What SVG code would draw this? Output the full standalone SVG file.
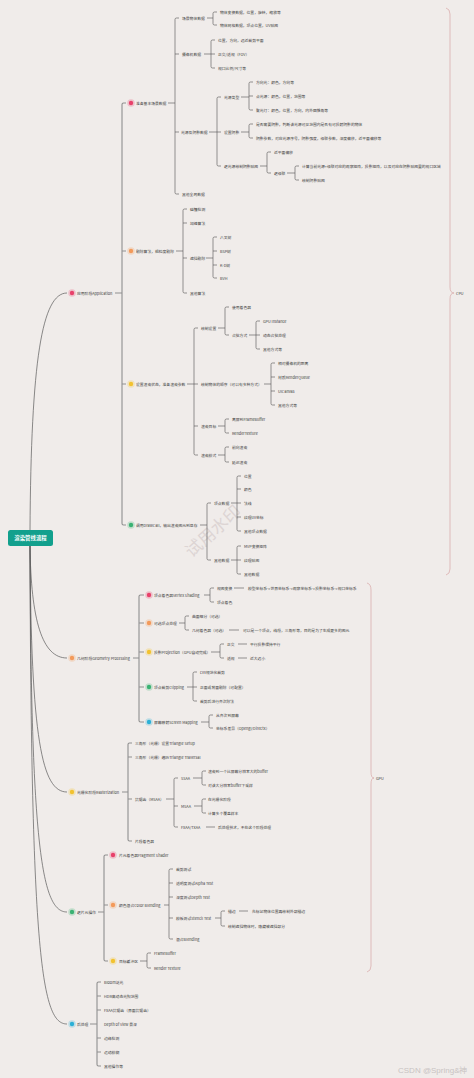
<svg xmlns="http://www.w3.org/2000/svg" width="474" height="1078" viewBox="0 0 474 1078">
<style>
.t{font-family:"Noto Sans CJK SC","Noto Sans","Liberation Sans",sans-serif;font-size:3.8px;fill:#3c3c3c;dominant-baseline:central}
.l1{stroke:#8f8f8f;stroke-width:1.1;fill:none}
.l{stroke:#505050;stroke-width:0.6;fill:none}
.c0{stroke:#5a5a5a;stroke-width:0.7;fill:none}
.br{stroke:#d49a9a;stroke-width:0.6;fill:none}
.red{fill:#e8416b}.ora{fill:#f39a5b}.yel{fill:#f2c230}.grn{fill:#3bb273}.blu{fill:#2cb0d6}
.h{opacity:0.25}
</style>
<rect width="474" height="1078" fill="#f0ecea"/>
<text x="212" y="530" transform="rotate(-42 212 530)" font-family="Noto Sans CJK SC,sans-serif" font-size="17" fill="#ddd5d4" text-anchor="middle" dominant-baseline="central">试用水印</text>

<g id="connectors">
  <!-- root curves -->
  <path class="c0" d="M30,531 C31,360 42,293 67,293"/>
  <path class="c0" d="M30,546 C31,620 42,658 67,658"/>
  <path class="c0" d="M30,546 C31,740 42,792 67,792"/>
  <path class="c0" d="M30,546 C31,850 42,912 67,912"/>
  <path class="c0" d="M30,546 C31,960 42,1024 67,1024"/>
  <!-- level 1 brackets -->
  <path class="l1" d="M115,293 H122 M126,103 H123.5 Q122,103 122,104.5 V523.5 Q122,525 123.5,525 H126 M122,251 H126 M122,384 H126"/>
  <path class="l1" d="M133,658 H139 M144,595 H140.5 Q139,595 139,596.5 V720.5 Q139,722 140.5,722 H144 M139,623 H144 M139,652 H144 M139,687 H144"/>
  <path class="l1" d="M122,792 H128 M132,743 H129.5 Q128,743 128,744.5 V839.5 Q128,841 129.5,841 H132 M128,757 H132 M128,799 H132"/>
  <path class="l1" d="M98,912 H104 M108,855 H105.5 Q104,855 104,856.5 V959.5 Q104,961 105.5,961 H108 M104,905 H108"/>
  <path class="l1" d="M90,1024 H97 M101,982 H98.5 Q97,982 97,983.5 V1064.5 Q97,1066 98.5,1066 H101 M97,996 H101 M97,1010 H101 M97,1038 H101 M97,1052 H101"/>
  <!-- application subtree -->
  <path class="l" d="M168,103 H175 M179,18 H176.5 Q175,18 175,19.5 V192.5 Q175,194 176.5,194 H179 M175,54 H179 M175,132 H179"/>
  <path class="l" d="M207,18 H213 M217,12 H214.5 Q213,12 213,13.5 V23.5 Q213,25 214.5,25 H217"/>
  <path class="l" d="M204,54 H211 M215,40 H212.5 Q211,40 211,41.5 V66.5 Q211,68 212.5,68 H215 M211,54 H215"/>
  <path class="l" d="M209,132 H217 M221,97 H218.5 Q217,97 217,98.5 V164.5 Q217,166 218.5,166 H221 M217,132 H221"/>
  <path class="l" d="M241,97 H249 M253,82 H250.5 Q249,82 249,83.5 V108.5 Q249,110 250.5,110 H253 M249,96 H253"/>
  <path class="l" d="M241,132 H249 M253,124 H250.5 Q249,124 249,125.5 V136.5 Q249,138 250.5,138 H253"/>
  <path class="l" d="M260,166 H267 M271,152 H268.5 Q267,152 267,153.5 V171.5 Q267,173 268.5,173 H271"/>
  <path class="l" d="M287,173 H295 M299,166 H296.5 Q295,166 295,167.5 V178.5 Q295,180 296.5,180 H299"/>
  <path class="l" d="M176,251 H183 M187,209 H184.5 Q183,209 183,210.5 V291.5 Q183,293 184.5,293 H187 M183,223 H187 M183,258 H187"/>
  <path class="l" d="M206,258 H213 M217,237 H214.5 Q213,237 213,238.5 V276.5 Q213,278 214.5,278 H217 M213,251 H217 M213,265 H217"/>
  <path class="l" d="M187,384 H194 M198,328 H195.5 Q194,328 194,329.5 V453.5 Q194,455 195.5,455 H198 M194,384 H198 M194,426 H198"/>
  <path class="l" d="M218,328 H225 M229,307 H226.5 Q225,307 225,308.5 V333.5 Q225,335 226.5,335 H229"/>
  <path class="l" d="M249,335 H256 M260,321 H257.5 Q256,321 256,322.5 V347.5 Q256,349 257.5,349 H260 M256,335 H260"/>
  <path class="l" d="M264,384 H271 M275,363 H272.5 Q271,363 271,364.5 V403.5 Q271,405 272.5,405 H275 M271,377 H275 M271,391 H275"/>
  <path class="l" d="M218,426 H225 M229,419 H226.5 Q225,419 225,420.5 V431.5 Q225,433 226.5,433 H229"/>
  <path class="l" d="M218,455 H225 M229,447 H226.5 Q225,447 225,448.5 V460.5 Q225,462 226.5,462 H229"/>
  <path class="l" d="M200,525 H207 M211,503 H208.5 Q207,503 207,504.5 V558.5 Q207,560 208.5,560 H211"/>
  <path class="l" d="M231,503 H237 M241,476 H238.5 Q237,476 237,477.5 V529.5 Q237,531 238.5,531 H241 M237,489 H241 M237,503 H241 M237,517 H241"/>
  <path class="l" d="M231,560 H237 M241,546 H238.5 Q237,546 237,547.5 V572.5 Q237,574 238.5,574 H241 M237,560 H241"/>
  <!-- geometry subtree -->
  <path class="l" d="M204,595 H210 M214,588 H211.5 Q210,588 210,589.5 V600.5 Q210,602 211.5,602 H214"/>
  <path class="l" d="M234,588 H244"/>
  <path class="l" d="M179,623 H185 M189,616 H186.5 Q185,616 185,617.5 V628.5 Q185,630 186.5,630 H189"/>
  <path class="l" d="M229,630 H239"/>
  <path class="l" d="M211,652 H220 M224,644 H221.5 Q220,644 220,645.5 V656.5 Q220,658 221.5,658 H224"/>
  <path class="l" d="M238,644 H247 M238,658 H247"/>
  <path class="l" d="M187,687 H193 M197,672 H194.5 Q193,672 193,673.5 V699.5 Q193,701 194.5,701 H197 M193,687 H197"/>
  <path class="l" d="M201,722 H209 M213,715 H210.5 Q209,715 209,716.5 V726.5 Q209,728 210.5,728 H213"/>
  <!-- raster subtree -->
  <path class="l" d="M166,799 H174 M178,778 H175.5 Q174,778 174,779.5 V825.5 Q174,827 175.5,827 H178 M174,806 H178"/>
  <path class="l" d="M193,778 H202 M206,771 H203.5 Q202,771 202,772.5 V783.5 Q202,785 203.5,785 H206"/>
  <path class="l" d="M194,806 H202 M206,799 H203.5 Q202,799 202,800.5 V811.5 Q202,813 203.5,813 H206"/>
  <path class="l" d="M206,827 H215"/>
  <!-- per-fragment subtree -->
  <path class="l" d="M164,905 H169 M173,869 H170.5 Q169,869 169,870.5 V937.5 Q169,939 170.5,939 H173 M169,883 H173 M169,897 H173 M169,918 H173"/>
  <path class="l" d="M215,918 H221 M225,911 H222.5 Q221,911 221,912.5 V924.5 Q221,926 222.5,926 H225"/>
  <path class="l" d="M239,911 H248"/>
  <path class="l" d="M140,961 H147 M151,953 H148.5 Q147,953 147,954.5 V966.5 Q147,968 148.5,968 H151"/>
  <!-- CPU / GPU braces -->
  <path class="br" d="M446,8 Q450,9 450,14 L450,287 Q450,293 454,293 Q450,293 450,299 L450,569 Q450,574 446,575"/>
  <path class="br" d="M367,583 Q371,584 371,590 L371,772 Q371,778 374,778 Q371,778 371,784 L371,966 Q371,971 367,972"/>
</g>

<g id="root">
  <rect x="8" y="530" width="45" height="16" rx="2.5" fill="#12a08d"/>
  <text x="30.5" y="538" font-family="Noto Sans CJK SC,sans-serif" font-size="5.4" font-weight="bold" fill="#ffffff" text-anchor="middle" dominant-baseline="central">渲染管线流程</text>
</g>

<g id="n-app"><circle cx="72" cy="293" r="3.8" class="red h"/><circle cx="72" cy="293" r="2.2" class="red"/><text class="t" x="77" y="293">应用阶段Application</text></g>
<g id="n-scene"><circle cx="131" cy="103" r="3.8" class="red h"/><circle cx="131" cy="103" r="2.2" class="red"/><text class="t" x="136" y="103">准备基本场景数据</text></g>
<g id="n-objdata"><text class="t" x="182" y="18">场景物体数据</text></g>
<g id="n-obj1"><text class="t" x="220" y="12">物体变换数据，位置，旋转，缩放等</text></g>
<g id="n-obj2"><text class="t" x="220" y="25">物体网格数据，顶点位置，UV贴图</text></g>
<g id="n-cam"><text class="t" x="182" y="54">摄像机数据</text></g>
<g id="n-cam1"><text class="t" x="218" y="40">位置，方向，远近裁剪平面</text></g>
<g id="n-cam2"><text class="t" x="218" y="54">正交/透视（FOV）</text></g>
<g id="n-cam3"><text class="t" x="218" y="68">视口比例/尺寸等</text></g>
<g id="n-light"><text class="t" x="181" y="132">光源及阴影数据</text></g>
<g id="n-ltype"><text class="t" x="224" y="97">光源类型</text></g>
<g id="n-lt1"><text class="t" x="256" y="82">方向光：颜色，方向等</text></g>
<g id="n-lt2"><text class="t" x="256" y="96">点光源：颜色，位置，范围等</text></g>
<g id="n-lt3"><text class="t" x="256" y="110">聚光灯：颜色，位置，方向，内外圆锥角等</text></g>
<g id="n-shadow"><text class="t" x="224" y="132">设置阴影</text></g>
<g id="n-sh1"><text class="t" x="256" y="124">是否需要阴影，判断该光源可见范围内是否有可投射阴影的物体</text></g>
<g id="n-sh2"><text class="t" x="256" y="138">阴影参数，对应光源序号，阴影强度，级联参数，深度偏移，近平面偏移等</text></g>
<g id="n-shmap"><text class="t" x="224" y="166">逐光源绘制阴影贴图</text></g>
<g id="n-shm1"><text class="t" x="274" y="152">近平面偏移</text></g>
<g id="n-casc"><text class="t" x="274" y="173">逐级联</text></g>
<g id="n-casc1"><text class="t" x="302" y="166">计算当前光源+级联对应的观察矩阵，投影矩阵，以及对应在阴影贴图里的视口区域</text></g>
<g id="n-casc2"><text class="t" x="302" y="180">绘制阴影贴图</text></g>
<g id="n-global"><text class="t" x="182" y="194">其他全局数据</text></g>

<g id="n-cull"><circle cx="131" cy="251" r="3.8" class="ora h"/><circle cx="131" cy="251" r="2.2" class="ora"/><text class="t" x="136" y="251">剔除算法，粗粒度剔除</text></g>
<g id="n-cull1"><text class="t" x="190" y="209">碰撞检测</text></g>
<g id="n-cull2"><text class="t" x="190" y="223">加速算法</text></g>
<g id="n-occl"><text class="t" x="190" y="258">遮挡剔除</text></g>
<g id="n-oc1"><text class="t" x="220" y="237">八叉树</text></g>
<g id="n-oc2"><text class="t" x="220" y="251">BSP树</text></g>
<g id="n-oc3"><text class="t" x="220" y="265">K-D树</text></g>
<g id="n-oc4"><text class="t" x="220" y="278">BVH</text></g>
<g id="n-cull3"><text class="t" x="190" y="293">其他算法</text></g>

<g id="n-state"><circle cx="131" cy="384" r="3.8" class="yel h"/><circle cx="131" cy="384" r="2.2" class="yel"/><text class="t" x="136" y="384">设置渲染状态，准备渲染参数</text></g>
<g id="n-draw"><text class="t" x="201" y="328">绘制设置</text></g>
<g id="n-draw1"><text class="t" x="232" y="307">使用着色器</text></g>
<g id="n-batch"><text class="t" x="232" y="335">合批方式</text></g>
<g id="n-b1"><text class="t" x="263" y="321">GPU Instance</text></g>
<g id="n-b2"><text class="t" x="263" y="335">动态合批处理</text></g>
<g id="n-b3"><text class="t" x="263" y="349">其他方式等</text></g>
<g id="n-order"><text class="t" x="201" y="384">绘制物体的顺序（可以有多种方式）</text></g>
<g id="n-o1"><text class="t" x="278" y="363">相对摄像机的距离</text></g>
<g id="n-o2"><text class="t" x="278" y="377">材质RenderQueue</text></g>
<g id="n-o3"><text class="t" x="278" y="391">UICanvas</text></g>
<g id="n-o4"><text class="t" x="278" y="405">其他方式等</text></g>
<g id="n-target"><text class="t" x="201" y="426">渲染目标</text></g>
<g id="n-tg1"><text class="t" x="232" y="419">离屏到FrameBuffer</text></g>
<g id="n-tg2"><text class="t" x="232" y="433">RenderTexture</text></g>
<g id="n-mode"><text class="t" x="201" y="455">渲染模式</text></g>
<g id="n-m1"><text class="t" x="232" y="447">前向渲染</text></g>
<g id="n-m2"><text class="t" x="232" y="462">延迟渲染</text></g>

<g id="n-dc"><circle cx="131" cy="525" r="3.8" class="grn h"/><circle cx="131" cy="525" r="2.2" class="grn"/><text class="t" x="136" y="525">调用DrawCall，输出渲染图元到显存</text></g>
<g id="n-vdata"><text class="t" x="214" y="503">顶点数据</text></g>
<g id="n-v1"><text class="t" x="244" y="476">位置</text></g>
<g id="n-v2"><text class="t" x="244" y="489">颜色</text></g>
<g id="n-v3"><text class="t" x="244" y="503">法线</text></g>
<g id="n-v4"><text class="t" x="244" y="517">纹理uv坐标</text></g>
<g id="n-v5"><text class="t" x="244" y="531">其他顶点数据</text></g>
<g id="n-odata"><text class="t" x="214" y="560">其他数据</text></g>
<g id="n-od1"><text class="t" x="244" y="546">MVP变换矩阵</text></g>
<g id="n-od2"><text class="t" x="244" y="560">纹理贴图</text></g>
<g id="n-od3"><text class="t" x="244" y="574">其他数据</text></g>

<g id="n-geo"><circle cx="72" cy="658" r="3.8" class="ora h"/><circle cx="72" cy="658" r="2.2" class="ora"/><text class="t" x="77" y="658">几何阶段Geometry Processing</text></g>
<g id="n-vs"><circle cx="149" cy="595" r="3.8" class="red h"/><circle cx="149" cy="595" r="2.2" class="red"/><text class="t" x="154" y="595">顶点着色器Vertex Shading</text></g>
<g id="n-vs1"><text class="t" x="217" y="588">视图变换</text><text class="t" x="248" y="588">模型坐标系-&gt;世界坐标系-&gt;观察坐标系-&gt;投影坐标系-&gt;视口坐标系</text></g>
<g id="n-vs2"><text class="t" x="217" y="602">顶点着色</text></g>
<g id="n-opt"><circle cx="149" cy="623" r="3.8" class="ora h"/><circle cx="149" cy="623" r="2.2" class="ora"/><text class="t" x="154" y="623">可选顶点处理</text></g>
<g id="n-opt1"><text class="t" x="192" y="616">曲面细分（可选）</text></g>
<g id="n-opt2"><text class="t" x="192" y="630">几何着色器（可选）</text><text class="t" x="243" y="630">可以是一个顶点，线段，三角形等，目的是为了生成更多的图元</text></g>
<g id="n-proj"><circle cx="149" cy="652" r="3.8" class="yel h"/><circle cx="149" cy="652" r="2.2" class="yel"/><text class="t" x="154" y="652">投影Projection（GPU自动完成）</text></g>
<g id="n-pj1"><text class="t" x="227" y="644">正交</text><text class="t" x="250" y="644">平行投影保持平行</text></g>
<g id="n-pj2"><text class="t" x="227" y="658">透视</text><text class="t" x="250" y="658">近大远小</text></g>
<g id="n-clip"><circle cx="149" cy="687" r="3.8" class="grn h"/><circle cx="149" cy="687" r="2.2" class="grn"/><text class="t" x="154" y="687">顶点裁剪Clipping</text></g>
<g id="n-cl1"><text class="t" x="200" y="672">cvv规范化裁剪</text></g>
<g id="n-cl2"><text class="t" x="200" y="687">正面或背面剔除（可配置）</text></g>
<g id="n-cl3"><text class="t" x="200" y="701">裁剪后进行齐次除法</text></g>
<g id="n-sm"><circle cx="149" cy="722" r="3.8" class="blu h"/><circle cx="149" cy="722" r="2.2" class="blu"/><text class="t" x="154" y="722">屏幕映射Screen Mapping</text></g>
<g id="n-sm1"><text class="t" x="216" y="715">从齐次到屏幕</text></g>
<g id="n-sm2"><text class="t" x="216" y="728">坐标系差异（Opengl/DirectX）</text></g>

<g id="n-ras"><circle cx="72" cy="792" r="3.8" class="yel h"/><circle cx="72" cy="792" r="2.2" class="yel"/><text class="t" x="77" y="792">光栅化阶段Rasterization</text></g>
<g id="n-r1"><text class="t" x="135" y="743">三角形（光栅）设置Triangle Setup</text></g>
<g id="n-r2"><text class="t" x="135" y="757">三角形（光栅）遍历Triangle Traversal</text></g>
<g id="n-aa"><text class="t" x="135" y="799">抗锯齿（MSAA）</text></g>
<g id="n-ssaa"><text class="t" x="181" y="778">SSAA</text></g>
<g id="n-ss1"><text class="t" x="208" y="771">渲染到一个比屏幕分辨率大的buffer</text></g>
<g id="n-ss2"><text class="t" x="208" y="785">对该大分辨率buffer下采样</text></g>
<g id="n-msaa"><text class="t" x="181" y="806">MSAA</text></g>
<g id="n-ms1"><text class="t" x="208" y="799">在光栅化阶段</text></g>
<g id="n-ms2"><text class="t" x="208" y="813">计算多个覆盖样本</text></g>
<g id="n-fxaa"><text class="t" x="181" y="827">FXAA/TXAA</text><text class="t" x="218" y="827">后处理技术，不在这个阶段处理</text></g>
<g id="n-r4"><text class="t" x="135" y="841">片段着色器</text></g>

<g id="n-frag"><circle cx="72" cy="912" r="3.8" class="grn h"/><circle cx="72" cy="912" r="2.2" class="grn"/><text class="t" x="77" y="912">逐片元操作</text></g>
<g id="n-fs"><circle cx="113" cy="855" r="3.8" class="red h"/><circle cx="113" cy="855" r="2.2" class="red"/><text class="t" x="119" y="855">片元着色器Fragment Shader</text></g>
<g id="n-cb"><circle cx="113" cy="905" r="3.8" class="ora h"/><circle cx="113" cy="905" r="2.2" class="ora"/><text class="t" x="119" y="905">颜色混合Color Blending</text></g>
<g id="n-cb1"><text class="t" x="176" y="869">裁剪测试</text></g>
<g id="n-cb2"><text class="t" x="176" y="883">透明度测试Alpha Test</text></g>
<g id="n-cb3"><text class="t" x="176" y="897">深度测试Depth Test</text></g>
<g id="n-st"><text class="t" x="176" y="918">模板测试Stencil Test</text></g>
<g id="n-st1"><text class="t" x="228" y="911">描边</text><text class="t" x="252" y="911">先标记物体位置再绘制外部描边</text></g>
<g id="n-st2"><text class="t" x="228" y="926">绘制遮挡物体时，隐藏被遮挡部分</text></g>
<g id="n-cb5"><text class="t" x="176" y="939">混合Blending</text></g>
<g id="n-tb"><circle cx="113" cy="961" r="3.8" class="yel h"/><circle cx="113" cy="961" r="2.2" class="yel"/><text class="t" x="119" y="961">目标缓冲区</text></g>
<g id="n-tb1"><text class="t" x="154" y="953">FrameBuffer</text></g>
<g id="n-tb2"><text class="t" x="154" y="968">Render Texture</text></g>

<g id="n-post"><circle cx="72" cy="1024" r="3.8" class="blu h"/><circle cx="72" cy="1024" r="2.2" class="blu"/><text class="t" x="77" y="1024">后处理</text></g>
<g id="n-p1"><text class="t" x="104" y="982">Bloom泛光</text></g>
<g id="n-p2"><text class="t" x="104" y="996">HDR高动态光照范围</text></g>
<g id="n-p3"><text class="t" x="104" y="1010">FXAA抗锯齿（界面抗锯齿）</text></g>
<g id="n-p4"><text class="t" x="104" y="1024">Depth of View 景深</text></g>
<g id="n-p5"><text class="t" x="104" y="1038">边缘检测</text></g>
<g id="n-p6"><text class="t" x="104" y="1052">运动模糊</text></g>
<g id="n-p7"><text class="t" x="104" y="1066">其他操作等</text></g>

<g id="n-cpu"><text class="t" x="456" y="293">CPU</text></g>
<g id="n-gpu"><text class="t" x="376" y="778">GPU</text></g>
<text x="398" y="1070" font-family="Liberation Sans,sans-serif" font-size="8" fill="#c8c3c2" dominant-baseline="central">CSDN @Spring&amp;神</text>
</svg>
